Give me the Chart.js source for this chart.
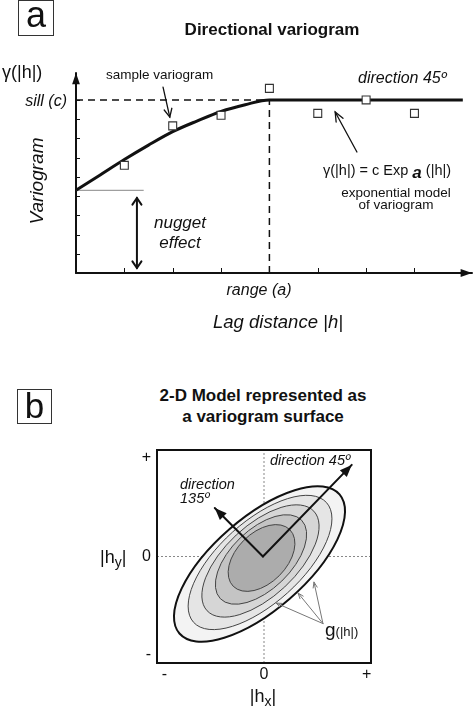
<!DOCTYPE html>
<html>
<head>
<meta charset="utf-8">
<script src="https://cdn.jsdelivr.net/npm/chart.js@4.4.1/dist/chart.umd.min.js"></script>
<style>
  body { margin: 0; background: #fff; }
  #page { position: relative; width: 474px; height: 708px; overflow: hidden; font-family: 'Liberation Sans', Arial, sans-serif; color: #111; }
  .t { position: absolute; white-space: nowrap; line-height: 1; }
  .c { transform: translateX(-50%); }
  .i { font-style: italic; }
  .b { font-weight: bold; }
  .box { position: absolute; border: 1.5px solid #333; box-sizing: border-box; }
  canvas { position: absolute; left: 0; }
</style>
</head>
<body>
<div id="page">
  <canvas id="variogramChart" width="474" height="345" style="top:0"></canvas>
  <canvas id="surfaceChart" width="474" height="278" style="top:430px"></canvas>

  <!-- panel a -->
  <div class="box" style="left:18px;top:0;width:36px;height:36px"></div>
  <div class="t c" style="left:36px;top:-3.5px;font-size:36px">a</div>
  <div class="t c b" style="left:272px;top:20.6px;font-size:17px">Directional variogram</div>
  <div class="t" style="left:2px;top:63px;font-size:18px">γ(|h|)</div>
  <div class="t" style="left:106px;top:67.6px;font-size:13.5px">sample variogram</div>
  <div class="t i" style="right:407px;top:92.5px;font-size:16px">sill (c)</div>
  <div class="t i" style="left:36px;top:181px;font-size:19px;transform:translate(-50%,-50%) rotate(-90deg)">Variogram</div>
  <div class="t i" style="left:358px;top:69.5px;font-size:16px">direction 45º</div>
  <div class="t" style="left:323px;top:161.3px;font-size:14.5px">γ(|h|) = c Exp <span class="b i" style="font-size:17px;position:relative;top:3px">a</span> (|h|)</div>
  <div class="t c" style="left:396px;top:185.6px;font-size:13.5px">exponential model</div>
  <div class="t c" style="left:396px;top:198px;font-size:13.5px">of variogram</div>
  <div class="t c i" style="left:180px;top:213.6px;font-size:17px">nugget</div>
  <div class="t c i" style="left:180px;top:233.6px;font-size:17px">effect</div>
  <div class="t c i" style="left:259px;top:281.5px;font-size:16px">range (a)</div>
  <div class="t c i" style="left:278px;top:313.4px;font-size:18.5px">Lag distance |h|</div>

  <!-- panel b -->
  <div class="box" style="left:17px;top:389px;width:35px;height:35px"></div>
  <div class="t c" style="left:34.5px;top:388.4px;font-size:35px">b</div>
  <div class="t c b" style="left:263px;top:386.6px;font-size:17px">2-D Model represented as</div>
  <div class="t c b" style="left:263px;top:407.6px;font-size:17px">a variogram surface</div>
  <div class="t i" style="left:270px;top:452.7px;font-size:14.5px">direction 45º</div>
  <div class="t i" style="left:180px;top:476.7px;font-size:14.5px">direction</div>
  <div class="t i" style="left:180px;top:490.7px;font-size:14.5px">135º</div>
  <div class="t" style="left:100px;top:547.8px;font-size:18px">|h<span style="font-size:14px;position:relative;top:4px">y</span>|</div>
  <div class="t c" style="left:263px;top:686.8px;font-size:18px">|h<span style="font-size:14px;position:relative;top:4px">x</span>|</div>
  <div class="t" style="left:325px;top:620px;font-size:19px">g<span style="font-size:13px">(|h|)</span></div>
</div>

<script>
// ---- panel a: directional variogram ----
const lagTicks = [1, 2, 3, 4, 5, 6, 7];
const gammaTicks = [1, 2, 3, 4, 5, 6, 7, 8, 9];
const sampleLag = [1, 2, 3, 4, 5, 6, 7];
const sampleGamma = [5.6, 7.65, 8.2, 9.6, 8.3, 9.0, 8.3];
const modelLag = [0, 0.5, 1, 1.5, 2, 2.5, 3, 3.5, 4, 5, 6, 7, 8];
const modelGamma = [4.3, 5.1, 5.9, 6.65, 7.35, 7.9, 8.4, 8.75, 9, 9, 9, 9, 9];
const sill = 9;
const nugget = 4.3;
const rangeA = 4;

// ---- panel b: variogram surface ----
const surfXTicks = [-0.93, 0, 0.96];
const surfYTicks = [-0.92, 0, 0.93];
const xTickLabels = ['-', '0', '+'];
const yTickLabels = ['-', '0', '+'];
const contourMajor = [0.374, 0.528, 0.682, 0.836, 0.991];
const contourMinor = [0.234, 0.280, 0.332, 0.383, 0.430];
const contourAngle = [45, 44, 43, 42, 41];
const contourCx = [-0.023, -0.028, -0.033, -0.037, -0.042];
const contourCy = [-0.014, -0.028, -0.042, -0.056, -0.070];

const shadeColors = ['#acacac', '#c4c4c4', '#d6d6d6', '#e5e5e5', '#f3f3f3'];

function drawHead(ctx, x1, y1, x2, y2, len, spread, filled) {
  const ang = Math.atan2(y2 - y1, x2 - x1);
  const ax = x2 - len * Math.cos(ang - spread), ay = y2 - len * Math.sin(ang - spread);
  const bx = x2 - len * Math.cos(ang + spread), by = y2 - len * Math.sin(ang + spread);
  ctx.beginPath();
  if (filled) {
    ctx.moveTo(x2, y2); ctx.lineTo(ax, ay); ctx.lineTo(bx, by); ctx.closePath(); ctx.fill();
  } else {
    ctx.moveTo(ax, ay); ctx.lineTo(x2, y2); ctx.lineTo(bx, by); ctx.stroke();
  }
}

function drawArrow(ctx, x1, y1, x2, y2, o) {
  ctx.save();
  ctx.strokeStyle = o.color || '#111';
  ctx.fillStyle = o.color || '#111';
  ctx.lineWidth = o.width || 1.5;
  ctx.lineCap = 'round';
  ctx.beginPath(); ctx.moveTo(x1, y1); ctx.lineTo(x2, y2); ctx.stroke();
  drawHead(ctx, x1, y1, x2, y2, o.head || 9, o.spread || 0.4, o.filled);
  if (o.both) drawHead(ctx, x2, y2, x1, y1, o.head || 9, o.spread || 0.4, o.filled);
  ctx.restore();
}

const variogramDecor = {
  id: 'variogramDecor',
  beforeDatasetsDraw(chart) {
    const { ctx, chartArea: ca, scales: { x, y } } = chart;
    const x0 = x.getPixelForValue(0), y0 = y.getPixelForValue(0);
    ctx.save();
    ctx.strokeStyle = '#111';
    ctx.lineWidth = 1;
    // inner ticks
    gammaTicks.forEach(v => {
      const py = Math.round(y.getPixelForValue(v)) + 0.5;
      ctx.beginPath(); ctx.moveTo(x0, py); ctx.lineTo(x0 + 4, py); ctx.stroke();
    });
    lagTicks.forEach(v => {
      const px = Math.round(x.getPixelForValue(v)) + 0.5;
      ctx.beginPath(); ctx.moveTo(px, y0); ctx.lineTo(px, y0 - 5); ctx.stroke();
    });
    ctx.restore();
    // axes with arrows
    drawArrow(ctx, x0, y0, x0, ca.top, { width: 2, head: 12, spread: 0.33, filled: true });
    drawArrow(ctx, x0, y0, ca.right, y0, { width: 2, head: 12, spread: 0.33, filled: true });
  },
  afterDatasetsDraw(chart) {
    const { ctx, scales: { x, y } } = chart;
    const P = (a, b) => [x.getPixelForValue(a), y.getPixelForValue(b)];
    let a = P(1.80, 9.67), b = P(1.94, 8.11);
    drawArrow(ctx, a[0], a[1], b[0], b[1], { width: 1.3, head: 9, spread: 0.45 });
    a = P(5.81, 6.29); b = P(5.36, 8.37);
    drawArrow(ctx, a[0], a[1], b[0], b[1], { width: 1.3, head: 10, spread: 0.4 });
    a = P(1.26, 3.9); b = P(1.26, 0.26);
    drawArrow(ctx, a[0], a[1], b[0], b[1], { width: 2, head: 8, spread: 0.6, both: true });
  }
};

new Chart(document.getElementById('variogramChart'), {
  type: 'scatter',
  data: {
    datasets: [
      {
        label: 'sample variogram',
        data: sampleLag.map((v, i) => ({ x: v, y: sampleGamma[i] })),
        pointStyle: 'rect',
        pointRadius: 5.6,
        pointBackgroundColor: '#fff',
        pointBorderColor: '#333',
        pointBorderWidth: 1.1
      },
      {
        label: 'model',
        data: modelLag.map((v, i) => ({ x: v, y: modelGamma[i] })),
        showLine: true,
        cubicInterpolationMode: 'monotone',
        borderColor: '#111',
        borderWidth: 3,
        pointRadius: 0
      },
      {
        label: 'sill',
        data: [{ x: 0, y: sill }, { x: rangeA, y: sill }],
        showLine: true,
        borderColor: '#111',
        borderWidth: 1.5,
        borderDash: [7, 5],
        pointRadius: 0
      },
      {
        label: 'range',
        data: [{ x: rangeA, y: 0 }, { x: rangeA, y: sill }],
        showLine: true,
        borderColor: '#111',
        borderWidth: 1.5,
        borderDash: [7, 5],
        pointRadius: 0
      },
      {
        label: 'nugget',
        data: [{ x: 0, y: nugget }, { x: 1.4, y: nugget }],
        showLine: true,
        borderColor: '#888',
        borderWidth: 1,
        pointRadius: 0
      }
    ]
  },
  options: {
    responsive: false,
    animation: false,
    devicePixelRatio: 1,
    layout: { padding: { left: 76, top: 73, right: 2, bottom: 72 }, autoPadding: false },
    scales: {
      x: { type: 'linear', display: false, min: 0, max: 8.19 },
      y: { type: 'linear', display: false, min: 0, max: 10.4 }
    },
    plugins: { legend: { display: false }, tooltip: { enabled: false } }
  },
  plugins: [variogramDecor]
});

const surfaceDecor = {
  id: 'surfaceDecor',
  afterDatasetsDraw(chart) {
    const { ctx, chartArea: ca, scales: { x, y } } = chart;
    const unit = x.getPixelForValue(1) - x.getPixelForValue(0);
    const last = contourMajor.length - 1;
    ctx.save();
    for (let i = last; i >= 0; i--) {
      ctx.beginPath();
      ctx.ellipse(x.getPixelForValue(contourCx[i]), y.getPixelForValue(contourCy[i]),
        contourMajor[i] * unit, contourMinor[i] * unit, -contourAngle[i] * Math.PI / 180, 0, Math.PI * 2);
      ctx.fillStyle = shadeColors[i];
      ctx.fill();
      ctx.lineWidth = i === last ? 2 : 1;
      ctx.strokeStyle = i === last ? '#111' : '#444';
      ctx.stroke();
    }
    ctx.lineWidth = 2;
    ctx.strokeStyle = '#111';
    ctx.strokeRect(ca.left, ca.top, ca.width, ca.height);
    ctx.restore();

    const P = (a, b) => [x.getPixelForValue(a), y.getPixelForValue(b)];
    const o = P(-0.01, 0.0);
    let t = P(0.82, 0.86);
    drawArrow(ctx, o[0], o[1], t[0], t[1], { width: 2, head: 13, spread: 0.38, filled: true });
    t = P(-0.46, 0.455);
    drawArrow(ctx, o[0], o[1], t[0], t[1], { width: 2, head: 13, spread: 0.38, filled: true });

    // leader lines to g(|h|)
    const g = P(0.551, -0.63);
    [[0.112, -0.437], [0.318, -0.343], [0.467, -0.24]].forEach(e => {
      const q = P(e[0], e[1]);
      drawArrow(ctx, g[0], g[1], q[0], q[1], { width: 1, head: 6, spread: 0.35, color: '#777' });
    });
  }
};

const tickFont = { family: "'Liberation Sans', Arial, sans-serif", size: 16 };

new Chart(document.getElementById('surfaceChart'), {
  type: 'scatter',
  data: {
    datasets: [
      {
        data: [{ x: 0, y: -1 }, { x: 0, y: 1 }],
        showLine: true, borderColor: '#888', borderWidth: 1, borderDash: [2, 2], pointRadius: 0
      },
      {
        data: [{ x: -1, y: 0 }, { x: 1, y: 0 }],
        showLine: true, borderColor: '#888', borderWidth: 1, borderDash: [2, 2], pointRadius: 0
      }
    ]
  },
  options: {
    responsive: false,
    animation: false,
    devicePixelRatio: 1,
    layout: { padding: { left: 117, top: 20, right: 103, bottom: 17 }, autoPadding: false },
    scales: {
      x: {
        type: 'linear', min: -1, max: 1,
        afterBuildTicks: s => { s.ticks = surfXTicks.map(v => ({ value: v })); },
        afterFit: s => { s.height = 28; },
        ticks: { callback: (v, i) => xTickLabels[i], font: tickFont, color: '#111', padding: 2, maxRotation: 0, autoSkip: false },
        grid: { display: false, drawTicks: false, tickLength: 0 },
        border: { display: false }
      },
      y: {
        type: 'linear', min: -1, max: 1,
        afterBuildTicks: s => { s.ticks = surfYTicks.map(v => ({ value: v })); },
        afterFit: s => { s.width = 40; },
        ticks: { callback: (v, i) => yTickLabels[i], font: tickFont, color: '#111', padding: 6, autoSkip: false },
        grid: { display: false, drawTicks: false, tickLength: 0 },
        border: { display: false }
      }
    },
    plugins: { legend: { display: false }, tooltip: { enabled: false } }
  },
  plugins: [surfaceDecor]
});
</script>
</body>
</html>
